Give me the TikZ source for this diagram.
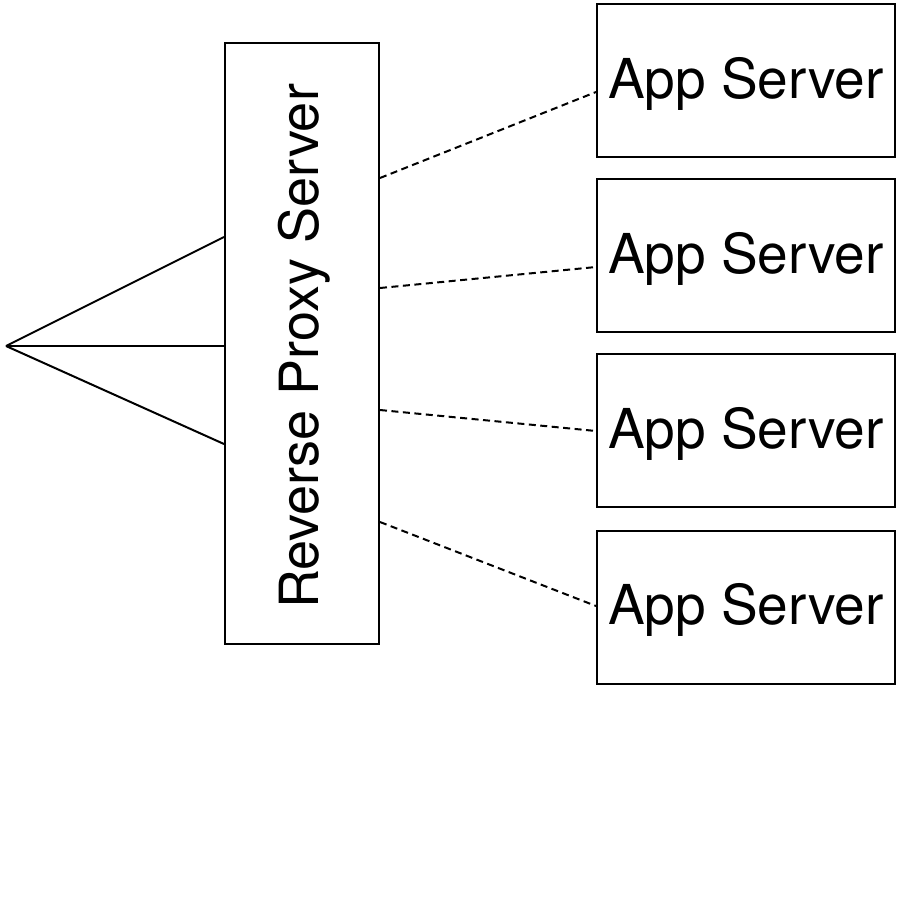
\documentclass[tikz,border=0pt]{standalone}
\usepackage{fontspec}
\setmainfont{TeX Gyre Heros}
\begin{document}
\begin{tikzpicture}[x=1pt,y=-1pt,
  box/.style={draw=black,line width=2pt,rectangle,inner sep=0pt},
  appbox/.style={box,minimum width=298pt,minimum height=153pt},
  apptext/.style={font=\fontsize{55}{60}\selectfont,inner sep=0pt},
  link/.style={draw=black,line width=2pt},
  dlink/.style={draw=black,line width=2pt,dash pattern=on 7pt off 4.5pt}]
\useasboundingbox (0,0) rectangle (900,900);
\node[box,minimum width=154pt,minimum height=601pt] (proxy) at (302,343.5) {};
\node[rotate=90,font=\fontsize{54}{60}\selectfont,inner sep=0pt] (ptext) at ([xshift=2pt,yshift=-3pt]proxy.center) {Reverse Proxy Server};
\node[appbox] (app1) at (746,80.5) {};
\node[appbox] (app2) at (746,255.5) {};
\node[appbox] (app3) at (746,430.5) {};
\node[appbox] (app4) at (746,607) {};
\node[apptext] (t1) at ([yshift=-3pt]app1.center) {App Server};
\node[apptext] (t2) at ([yshift=-3pt]app2.center) {App Server};
\node[apptext] (t3) at ([yshift=-3pt]app3.center) {App Server};
\node[apptext] (t4) at ([yshift=-3pt]app4.center) {App Server};
\coordinate (client) at (6,346);
\draw[link] (client) -- ([yshift=106.5pt]proxy.west);
\draw[link] (client) -- ([yshift=-2.5pt]proxy.west);
\draw[link] (client) -- ([yshift=-100.5pt]proxy.west);
\draw[dlink] ([yshift=165.5pt]proxy.east) -- ([yshift=-11.5pt]app1.west);
\draw[dlink] ([yshift=55.5pt]proxy.east) -- ([yshift=-11.5pt]app2.west);
\draw[dlink] ([yshift=-66.5pt]proxy.east) -- ([yshift=-0.5pt]app3.west);
\draw[dlink] ([yshift=-178.5pt]proxy.east) -- ([yshift=1pt]app4.west);
\end{tikzpicture}
\end{document}
